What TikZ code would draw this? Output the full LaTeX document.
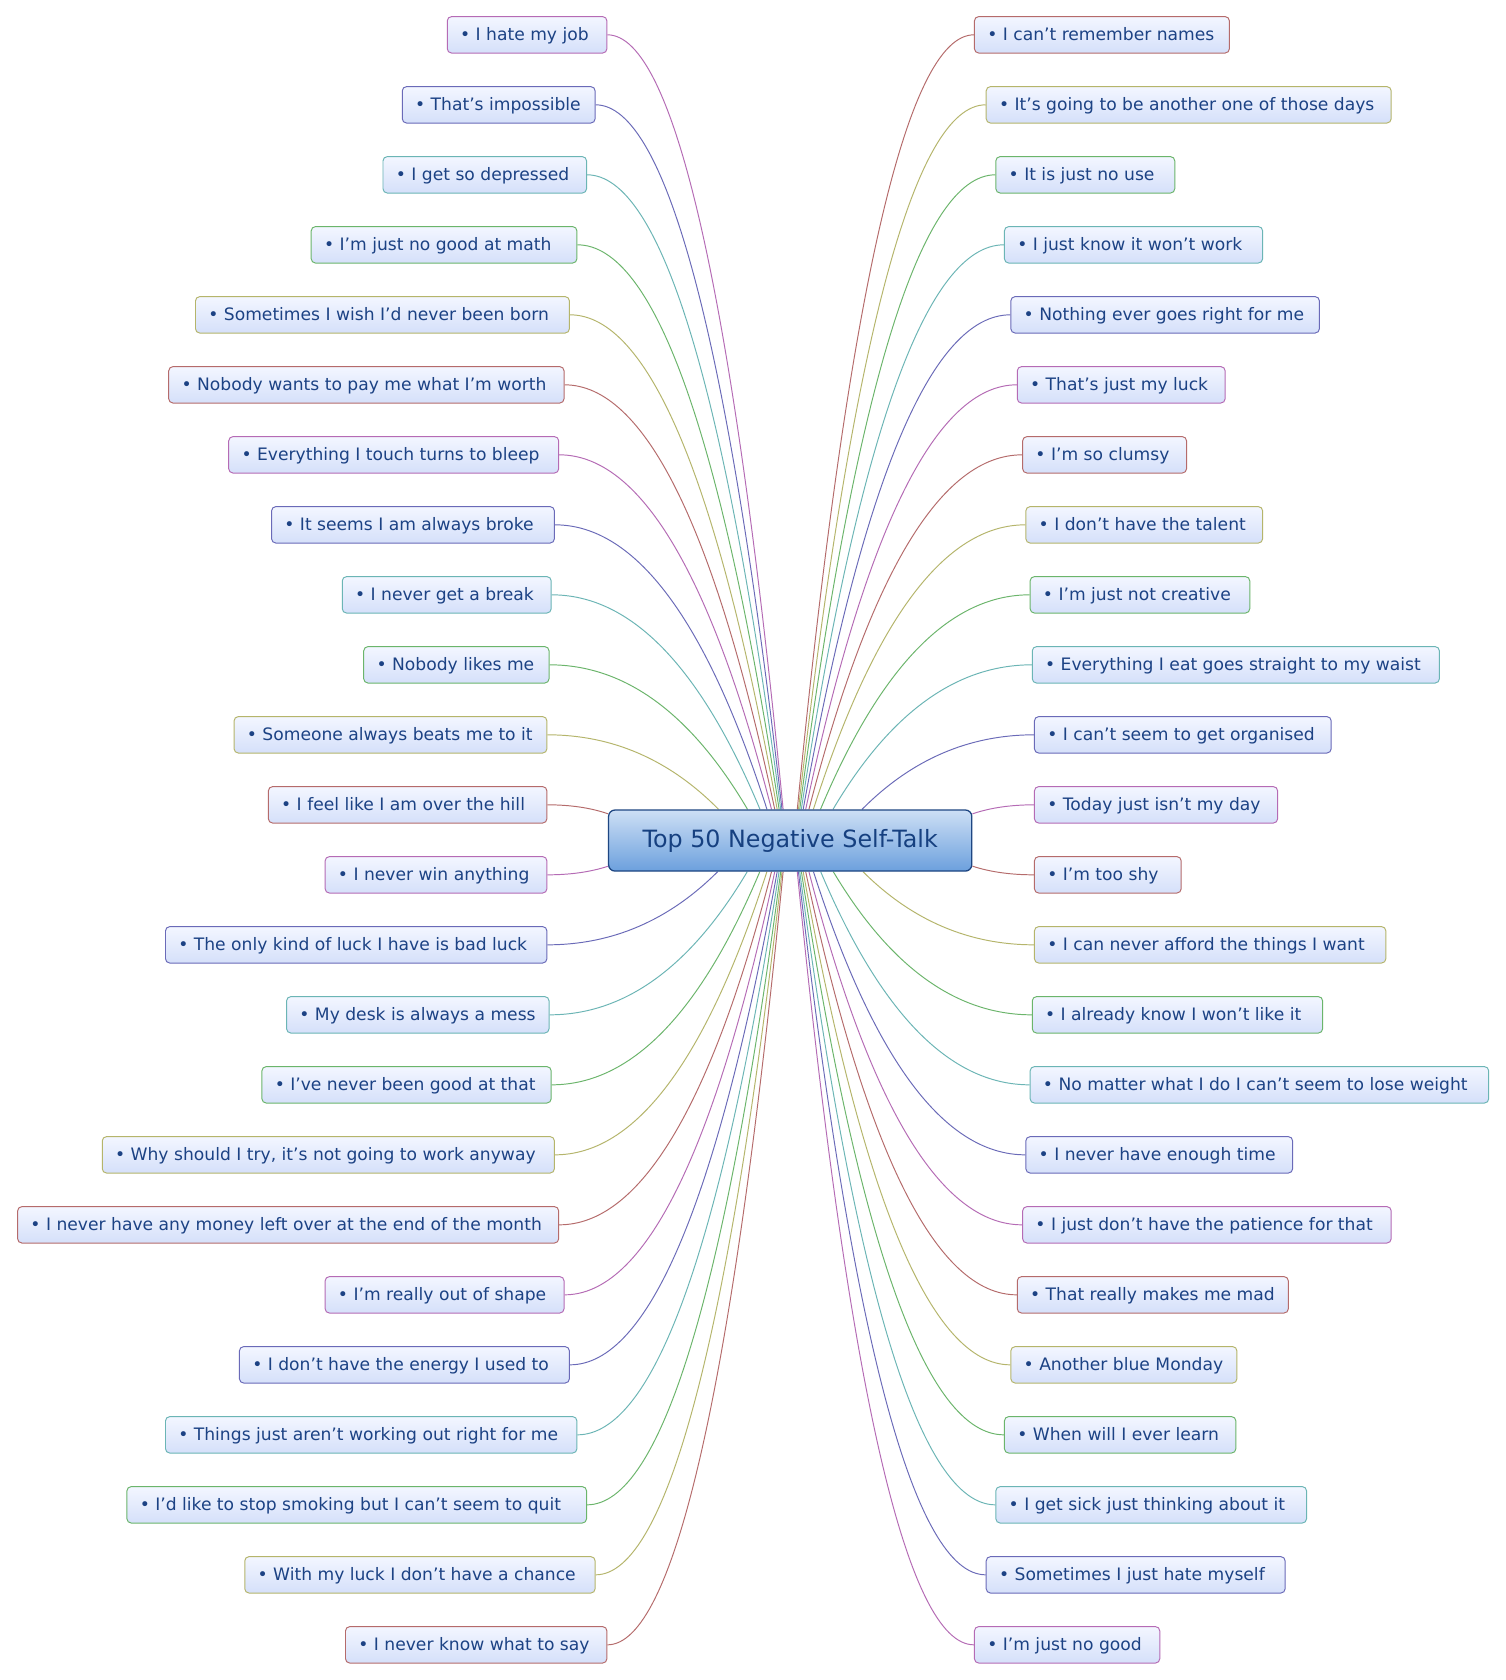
\documentclass[tikz,border=0pt]{standalone}
\usepackage{fontspec}
\setmainfont{DejaVu Sans}
\usetikzlibrary{calc}
\pgfdeclarelayer{background}
\pgfdeclarelayer{paper}
\pgfsetlayers{paper,background,main}
\definecolor{cMag}{RGB}{181,107,181}
\definecolor{cInd}{RGB}{106,106,184}
\definecolor{cTea}{RGB}{107,181,181}
\definecolor{cGre}{RGB}{107,181,107}
\definecolor{cOli}{RGB}{181,181,107}
\definecolor{cRed}{RGB}{181,107,107}
\definecolor{itemtext}{RGB}{28,66,132}
\definecolor{boxtop}{RGB}{243,246,255}
\definecolor{boxbot}{RGB}{213,224,250}
\definecolor{roottop}{RGB}{205,223,245}
\definecolor{rootbot}{RGB}{108,160,221}
\definecolor{rootline}{RGB}{30,70,130}
\definecolor{roottext}{RGB}{22,64,128}
\tikzset{
  item/.style={draw=#1, line width=0.9pt, rounded corners=4pt,
    top color=boxtop, bottom color=boxbot, text=itemtext,
    font=\fontsize{16}{18}\selectfont, inner xsep=12pt, inner ysep=0pt,
    text height=14pt, text depth=3pt, minimum height=34pt},
  conn/.style={draw=#1, line width=0.9pt},
  root/.style={draw=rootline, line width=1.2pt, rounded corners=6pt,
    top color=roottop, bottom color=rootbot, text=roottext,
    font=\fontsize{22.2}{24}\selectfont, inner sep=0pt,
    minimum width=339pt, minimum height=57pt}
}
\begin{document}
\begin{tikzpicture}[x=1pt,y=-1pt]
\begin{pgfonlayer}{paper}
\fill[white] (0,0) rectangle (1405,1568);
\end{pgfonlayer}
\useasboundingbox (0,0) rectangle (1405,1568);
\node[root] (root) at (737.5,784.5) {Top 50 Negative Self-Talk};
% left column
\foreach \i/\l/\r/\c/\t in {
 1/417/566/cMag/{I hate my job},
 2/375/555/cInd/{That’s impossible},
 3/357/547/cTea/{I get so depressed},
 4/290/538/cGre/{I’m just no good at math},
 5/182/531/cOli/{Sometimes I wish I’d never been born},
 6/157/526/cRed/{Nobody wants to pay me what I’m worth},
 7/213/521/cMag/{Everything I touch turns to bleep},
 8/253/517/cInd/{It seems I am always broke},
 9/319/514/cTea/{I never get a break},
 10/339/512/cGre/{Nobody likes me},
 11/218/510/cOli/{Someone always beats me to it},
 12/250/510/cRed/{I feel like I am over the hill},
 13/303/510/cMag/{I never win anything},
 14/154/510/cInd/{The only kind of luck I have is bad luck},
 15/267/512/cTea/{My desk is always a mess},
 16/244/514/cGre/{I’ve never been good at that},
 17/95/517/cOli/{Why should I try, it’s not going to work anyway},
 18/16/521/cRed/{I never have any money left over at the end of the month},
 19/303/526/cMag/{I’m really out of shape},
 20/223/531/cInd/{I don’t have the energy I used to},
 21/154/538/cTea/{Things just aren’t working out right for me},
 22/118/547/cGre/{I’d like to stop smoking but I can’t seem to quit},
 23/228/555/cOli/{With my luck I don’t have a chance},
 24/322/566/cRed/{I never know what to say}}{
  \pgfmathsetmacro\yy{32.5+65.333*(\i-1)}
  \pgfmathsetmacro\w{\r-\l-24}
  \node[item=\c, anchor=west] (L\i) at (\l,\yy) {\makebox[\w pt][l]{• \t}};
  \path (root) -- (L\i.east) coordinate[pos=0] (a);
  \coordinate (m) at ($(L\i.east)!0.57!(a)$);
  \coordinate (k) at (m |- L\i.east);
  \begin{pgfonlayer}{background}
  \draw[conn=\c] (a) .. controls ($(a)!0.6667!(k)$) and ($(L\i.east)!0.6667!(k)$) .. (L\i.east);
  \end{pgfonlayer}
}
% right column
\foreach \i/\l/\r/\c/\t in {
 1/909/1147/cRed/{I can’t remember names},
 2/920/1298/cOli/{It’s going to be another one of those days},
 3/929/1096/cGre/{It is just no use},
 4/937/1178/cTea/{I just know it won’t work},
 5/943/1231/cInd/{Nothing ever goes right for me},
 6/949/1143/cMag/{That’s just my luck},
 7/954/1107/cRed/{I’m so clumsy},
 8/957/1178/cOli/{I don’t have the talent},
 9/961/1166/cGre/{I’m just not creative},
 10/963/1343/cTea/{Everything I eat goes straight to my waist},
 11/965/1242/cInd/{I can’t seem to get organised},
 12/965/1192/cMag/{Today just isn’t my day},
 13/965/1102/cRed/{I’m too shy},
 14/965/1293/cOli/{I can never afford the things I want},
 15/963/1234/cGre/{I already know I won’t like it},
 16/961/1389/cTea/{No matter what I do I can’t seem to lose weight},
 17/957/1206/cInd/{I never have enough time},
 18/954/1298/cMag/{I just don’t have the patience for that},
 19/949/1202/cRed/{That really makes me mad},
 20/943/1154/cOli/{Another blue Monday},
 21/937/1153/cGre/{When will I ever learn},
 22/929/1219/cTea/{I get sick just thinking about it},
 23/920/1199/cInd/{Sometimes I just hate myself},
 24/909/1082/cMag/{I’m just no good}}{
  \pgfmathsetmacro\yy{32.5+65.333*(\i-1)}
  \pgfmathsetmacro\w{\r-\l-24}
  \node[item=\c, anchor=west] (R\i) at (\l,\yy) {\makebox[\w pt][l]{• \t}};
  \path (root) -- (R\i.west) coordinate[pos=0] (a);
  \coordinate (m) at ($(R\i.west)!0.57!(a)$);
  \coordinate (k) at (m |- R\i.west);
  \begin{pgfonlayer}{background}
  \draw[conn=\c] (a) .. controls ($(a)!0.6667!(k)$) and ($(R\i.west)!0.6667!(k)$) .. (R\i.west);
  \end{pgfonlayer}
}
\end{tikzpicture}
\end{document}
